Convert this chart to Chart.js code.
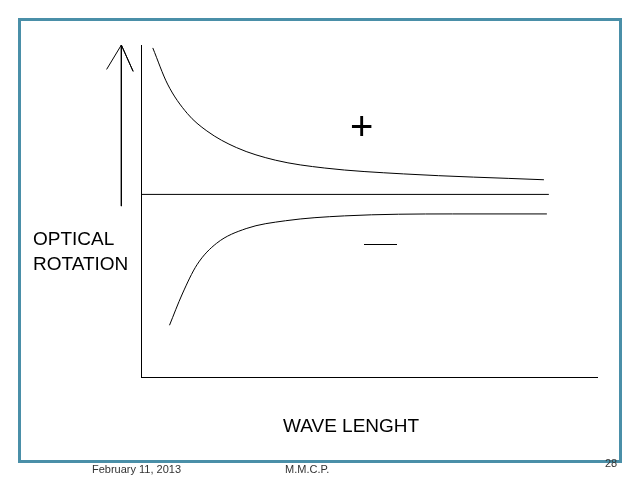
<!DOCTYPE html>
<html><head><meta charset="utf-8">
<script src="https://cdn.jsdelivr.net/npm/chart.js@4"></script>
<style>
body{margin:0;background:#fff;font-family:"Liberation Sans",Arial,sans-serif}
#wrap{position:relative;width:638px;height:478px}
#frame{position:absolute;left:18px;top:18px;width:598px;height:439px;border:3px solid #4a8fa8}
.t{position:absolute;color:#000;white-space:nowrap}
</style></head><body>
<div id="wrap">
<div id="frame"></div>
<canvas id="c" width="638" height="478" style="position:absolute;left:0;top:0"></canvas>
<div class="t" style="left:33px;top:226px;font-size:19px;line-height:25px">OPTICAL<br>ROTATION</div>
<div class="t" style="left:283px;top:415px;font-size:19px">WAVE LENGHT</div>
<div class="t" style="left:350px;top:104px;font-size:40px;font-weight:100">+</div>
<div class="t" style="left:364px;top:244px;width:33px;border-top:1px solid #000"></div>
<div class="t" style="left:92px;top:463px;font-size:11px;color:#333">February 11, 2013</div>
<div class="t" style="left:285px;top:463px;font-size:11px;color:#333">M.M.C.P.</div>
<div class="t" style="left:605px;top:457px;font-size:11px;color:#333">28</div>
</div>
<script>
const upperX = [12, 27, 47, 67, 97, 137, 187, 267, 410];
const upperY = [337, 300, 270, 252, 235, 222, 214, 208, 202];
const lowerX = [29, 42, 57, 77, 107, 147, 207, 317, 413];
const lowerY = [53, 85, 115, 137, 152, 160, 165, 167, 167];
const baseX = [0, 415];
const baseY = [187, 187];
const arrowX = [-35, -20, -8, -20, -20];
const arrowY = [315, 340, 313, 340, 175];

const pts = (xs, ys) => xs.map((x, i) => ({x: x, y: ys[i]}));
const line = (d, t) => ({data: d, borderColor: '#000', borderWidth: 1, pointRadius: 0,
  fill: false, tension: t, cubicInterpolationMode: t ? 'monotone' : 'default', clip: false});

new Chart(document.getElementById('c'), {
  type: 'scatter',
  data: {datasets: [
    line(pts(upperX, upperY), 0.4),
    line(pts(lowerX, lowerY), 0.4),
    line(pts(baseX, baseY), 0),
    line(pts(arrowX, arrowY), 0)
  ].map(d => Object.assign(d, {showLine: true}))},
  options: {
    responsive: false, animation: false,
    layout: {padding: {left: 133, right: 41, top: 45, bottom: 93}},
    plugins: {legend: {display: false}, tooltip: {enabled: false}},
    scales: {
      x: {min: 0, max: 464, ticks: {display: false}, grid: {display: false},
          border: {display: true, color: '#000', width: 1}},
      y: {min: 0, max: 340, ticks: {display: false}, grid: {display: false},
          border: {display: true, color: '#000', width: 1}}
    }
  }
});
</script>
</body></html>
